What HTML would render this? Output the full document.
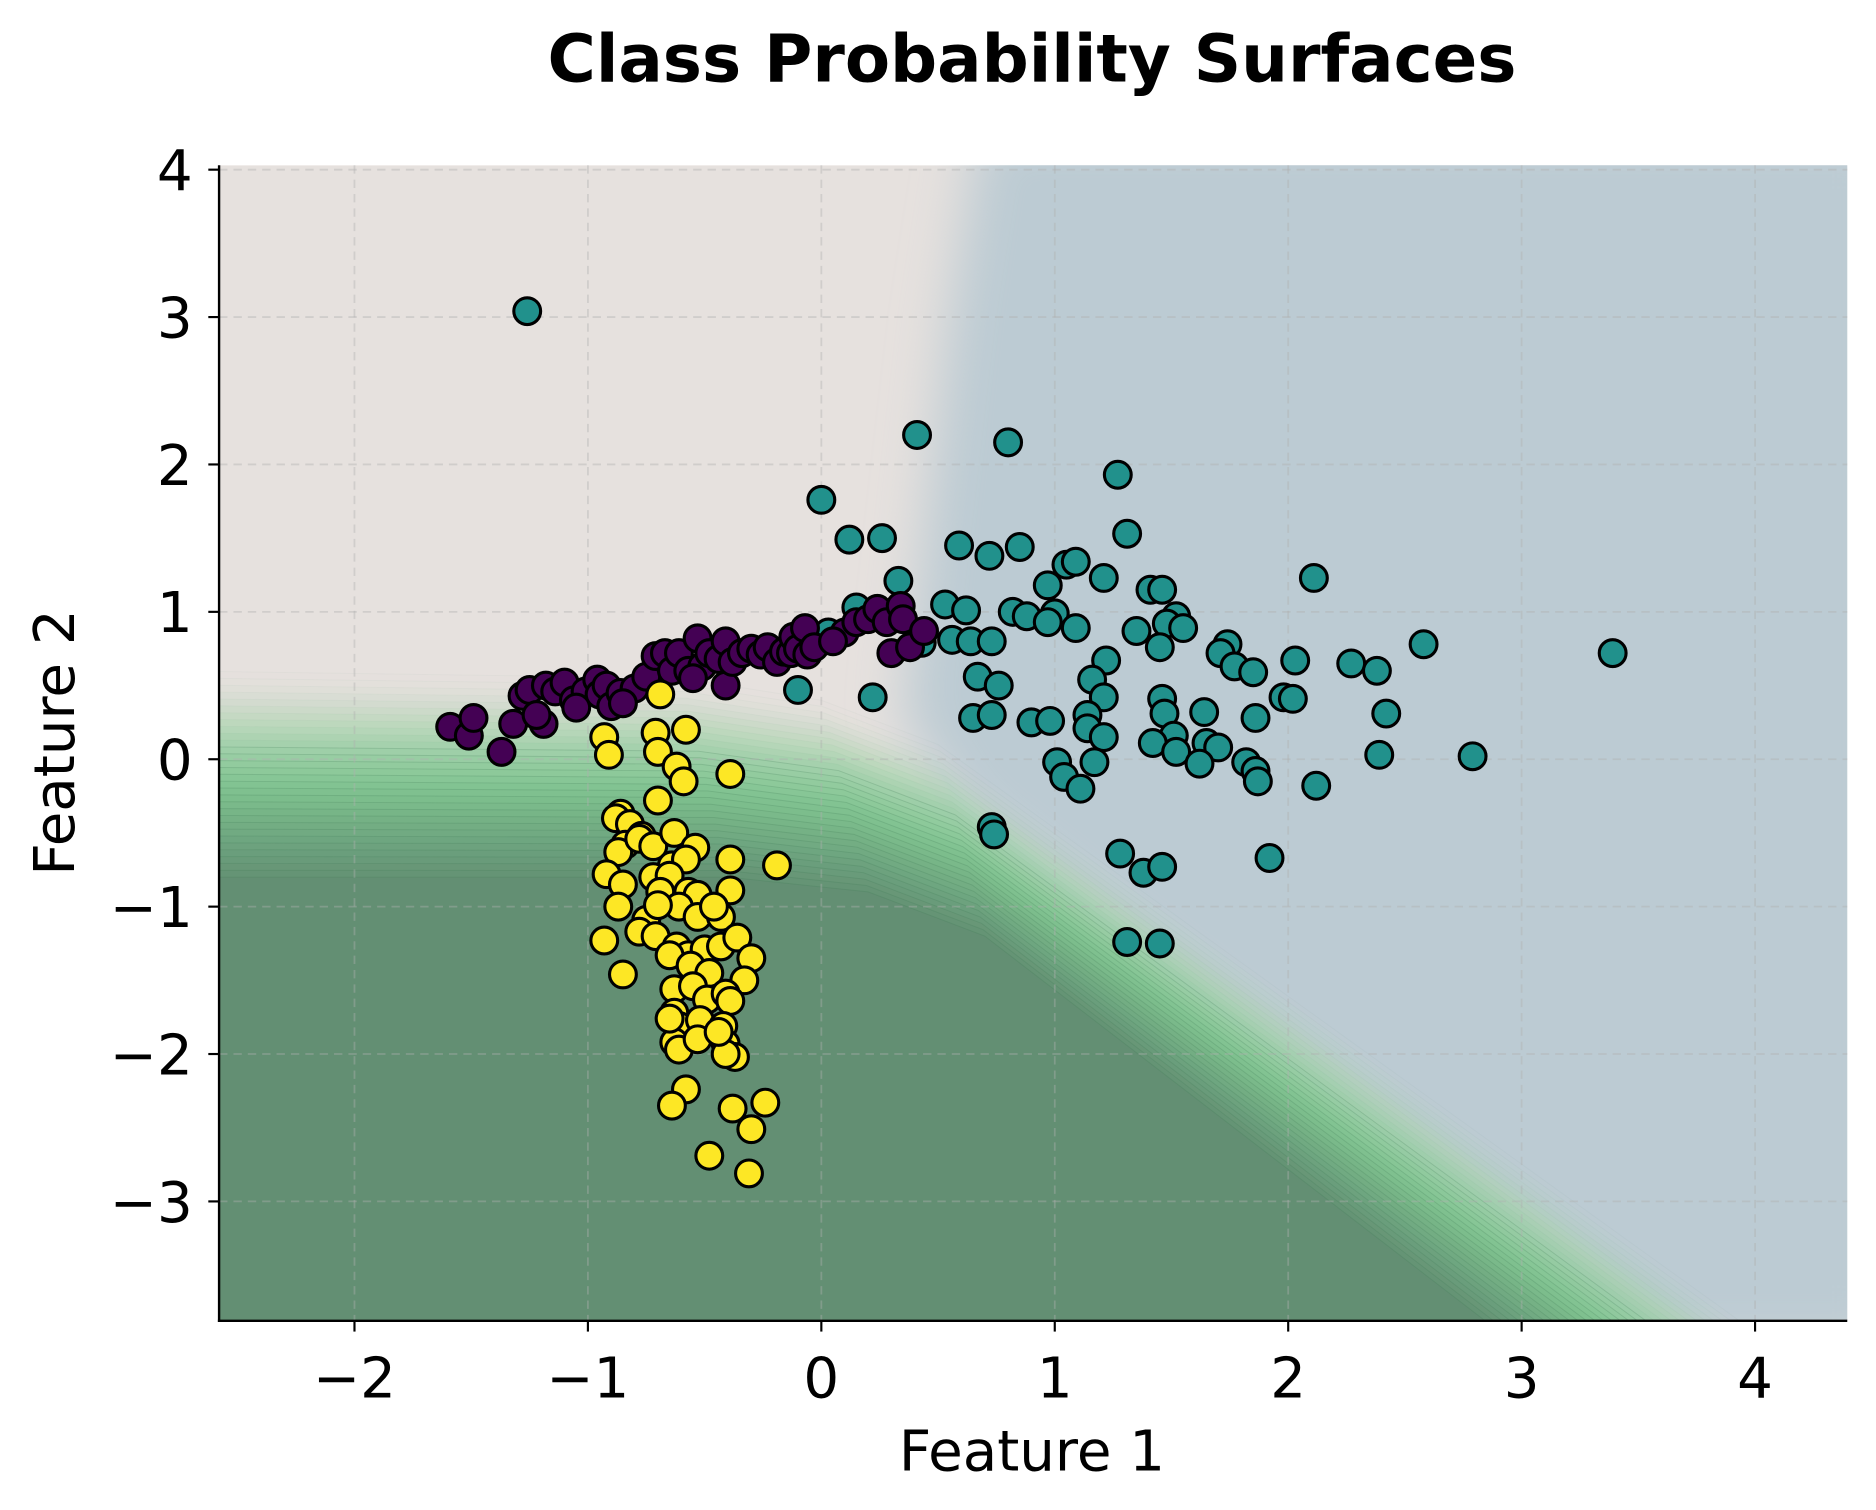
<!DOCTYPE html>
<html><head><meta charset="utf-8">
<style>
html,body{margin:0;padding:0;background:#fff;}
svg{display:block;}
text{font-family:"DejaVu Sans","Liberation Sans",sans-serif;fill:#000;}
</style></head>
<body>
<svg id="chart" width="1876" height="1510" viewBox="0 0 1567 1261" preserveAspectRatio="none" xmlns="http://www.w3.org/2000/svg">
<defs>
<clipPath id="plotclip"><rect x="183" y="138" width="1360" height="965"/></clipPath>
<filter id="blurL" x="-50%" y="-50%" width="200%" height="200%"><feGaussianBlur stdDeviation="22"/></filter>
</defs>
<g id="surface" clip-path="url(#plotclip)"></g>
<g id="grid"></g>
<g id="points" clip-path="url(#plotclip)"></g>
<g id="axes"></g>
<text x="862" y="68" text-anchor="middle" font-size="55" font-weight="bold">Class Probability Surfaces</text>
<text x="862" y="1228" text-anchor="middle" font-size="47">Feature 1</text>
<text x="0" y="0" text-anchor="middle" font-size="47" transform="translate(62,620) rotate(-90)">Feature 2</text>
</svg>
<script>
const xTicks = [-2, -1, 0, 1, 2, 3, 4];
const yTicks = [-3, -2, -1, 0, 1, 2, 3, 4];
const xTickLabels = ["\u22122", "\u22121", "0", "1", "2", "3", "4"];
const yTickLabels = ["\u22123", "\u22122", "\u22121", "0", "1", "2", "3", "4"];
const class1X = [-1.26,0.41,0.80,1.27,0.00,1.31,0.12,0.26,0.59,0.72,0.85,1.05,1.09,1.21,2.11,0.33,0.97,1.41,1.46,0.15,0.53,0.62,0.82,0.88,1.00,1.52,1.48,1.55,0.97,1.09,1.35,0.03,0.43,0.56,0.64,0.73,1.45,1.74,1.71,1.77,1.85,2.03,2.27,2.38,2.58,3.39,1.22,0.67,0.76,1.16,0.22,1.21,1.46,1.98,2.02,1.47,1.64,2.42,0.65,0.73,0.90,0.98,1.14,1.14,1.21,1.51,1.86,1.42,1.52,1.65,1.70,2.39,2.79,1.01,1.17,1.62,1.82,1.04,1.11,1.86,1.87,2.12,0.73,0.74,1.28,1.92,1.38,1.46,1.31,1.45,-0.10];
const class1Y = [3.04,2.20,2.15,1.93,1.76,1.53,1.49,1.50,1.45,1.38,1.44,1.32,1.34,1.23,1.23,1.21,1.18,1.15,1.15,1.03,1.05,1.01,1.00,0.97,0.99,0.97,0.92,0.89,0.93,0.89,0.87,0.86,0.79,0.81,0.80,0.80,0.76,0.78,0.72,0.63,0.59,0.67,0.65,0.60,0.78,0.72,0.67,0.56,0.50,0.54,0.42,0.42,0.41,0.42,0.41,0.31,0.32,0.31,0.28,0.30,0.25,0.26,0.30,0.21,0.15,0.16,0.28,0.11,0.05,0.11,0.08,0.03,0.02,-0.02,-0.02,-0.03,-0.02,-0.12,-0.20,-0.08,-0.15,-0.18,-0.46,-0.51,-0.64,-0.67,-0.77,-0.73,-1.24,-1.25,0.47];
const class0X = [-1.59,-1.51,-1.49,-1.37,-1.32,-1.28,-1.25,-1.18,-1.19,-1.14,-1.10,-1.06,-1.01,-0.96,-0.95,-0.92,-0.90,-0.86,-0.80,-0.75,-0.71,-0.67,-0.64,-0.61,-0.57,-0.53,-0.51,-0.48,-0.44,-0.41,-0.41,-0.38,-0.34,-0.30,-0.26,-0.23,-0.19,-0.16,-0.13,-0.12,-0.10,-0.07,-0.06,-0.03,0.10,0.15,0.20,0.24,0.28,0.30,0.34,0.35,0.38,0.44,-1.22,-1.05,-0.85,-0.55,0.05];
const class0Y = [0.22,0.16,0.28,0.05,0.24,0.43,0.47,0.50,0.24,0.46,0.52,0.40,0.46,0.54,0.44,0.50,0.36,0.45,0.48,0.56,0.70,0.72,0.60,0.72,0.60,0.82,0.63,0.72,0.68,0.80,0.50,0.66,0.72,0.75,0.71,0.76,0.66,0.73,0.72,0.83,0.75,0.89,0.71,0.76,0.86,0.93,0.95,1.02,0.93,0.72,1.04,0.95,0.76,0.87,0.30,0.35,0.38,0.55,0.80];
const class2X = [-0.69,-0.71,-0.58,-0.93,-0.91,-0.70,-0.62,-0.59,-0.39,-0.70,-0.86,-0.88,-0.82,-0.77,-0.84,-0.87,-0.78,-0.72,-0.63,-0.54,-0.64,-0.58,-0.39,-0.19,-0.92,-0.85,-0.72,-0.65,-0.57,-0.53,-0.39,-0.87,-0.69,-0.61,-0.75,-0.53,-0.43,-0.78,-0.71,-0.62,-0.57,-0.50,-0.43,-0.36,-0.30,-0.93,-0.65,-0.56,-0.48,-0.33,-0.85,-0.63,-0.55,-0.49,-0.41,-0.39,-0.63,-0.61,-0.52,-0.42,-0.41,-0.63,-0.61,-0.53,-0.37,-0.41,-0.44,-0.58,-0.64,-0.38,-0.24,-0.30,-0.48,-0.31,-0.65,-0.46,-0.70];
const class2Y = [0.44,0.18,0.20,0.15,0.03,0.05,-0.05,-0.15,-0.10,-0.28,-0.37,-0.40,-0.44,-0.52,-0.58,-0.63,-0.54,-0.59,-0.50,-0.60,-0.72,-0.68,-0.68,-0.72,-0.78,-0.85,-0.80,-0.79,-0.90,-0.92,-0.89,-1.00,-0.90,-1.00,-1.09,-1.07,-1.07,-1.17,-1.20,-1.27,-1.33,-1.29,-1.27,-1.21,-1.35,-1.23,-1.33,-1.40,-1.45,-1.50,-1.46,-1.56,-1.54,-1.63,-1.59,-1.64,-1.72,-1.81,-1.77,-1.81,-1.93,-1.92,-1.97,-1.90,-2.02,-2.00,-1.85,-2.24,-2.35,-2.37,-2.33,-2.51,-2.69,-2.81,-1.76,-1.00,-0.99];
// surface region outlines (data coords)
const blueRegion = [[0.68,4.3],[4.6,4.3],[4.6,-4],[3.55,-4],[0.6,-0.35],[0.35,0.3],[0.42,1.2],[0.55,3],[0.68,4.3]];
const greenOuter = [[-2.8,0.6],[-0.6,0.55],[0.0,0.4],[0.5,0.1],[4.1,-4]];
const greenInner = [[-2.8,-0.8],[-0.4,-0.8],[0.2,-0.9],[0.7,-1.2],[3.0,-4]];

const X0=-2.58, X1=4.395, Y0=-3.81, Y1=4.03;
const PL=183, PR=1543, PT=138, PB=1103;
function sx(v){return PL+(v-X0)/(X1-X0)*(PR-PL);}
function sy(v){return PB-(v-Y0)/(Y1-Y0)*(PB-PT);}
const NS="http://www.w3.org/2000/svg";
function mk(tag,attrs,parent){const e=document.createElementNS(NS,tag);for(const k in attrs)e.setAttribute(k,attrs[k]);parent.appendChild(e);return e;}
function pts(arr){return arr.map(p=>sx(p[0]).toFixed(1)+","+sy(p[1]).toFixed(1)).join(" ");}
function mix(a,b,t){const pa=[1,3,5].map(i=>parseInt(a.substr(i,2),16)),pb=[1,3,5].map(i=>parseInt(b.substr(i,2),16));return 'rgb('+pa.map((v,i)=>Math.round(v+(pb[i]-v)*t)).join(',')+')';}

const surf=document.getElementById('surface');
let r=mk('rect',{x:PL,y:PT,width:PR-PL,height:PB-PT,fill:'#e6e1de'},surf);


let b=mk('polygon',{points:pts(blueRegion),fill:'#bccbd3',filter:'url(#blurL)'},surf);


const N=30;
for(let k=0;k<=N;k++){
  const t=k/N;
  const bnd=greenOuter.map((p,i)=>[p[0]+(greenInner[i][0]-p[0])*t,p[1]+(greenInner[i][1]-p[1])*t]);
  bnd.push([-2.8,-4]);
  let col,op;
  if(t<0.5){col=mix('#b5dbba','#7fc490',t/0.5);op=0.02+t*0.7;}
  else{col=mix('#7fc490','#638f73',(t-0.5)/0.5);op=0.4+(t-0.5)*1.0;}
  if(k===N){col='#638f73';op=1;}
  const pg=mk('polygon',{points:pts(bnd),fill:col,'fill-opacity':op.toFixed(2),stroke:'#3f7a55','stroke-opacity':(t>0.35?0.22:0.03),'stroke-width':'0.8'},surf);
  
  
}

const grid=document.getElementById('grid');
xTicks.forEach(t=>{const l=mk('line',{x1:sx(t),x2:sx(t),y1:PT,y2:PB,stroke:'#b0b0b0','stroke-opacity':'0.4','stroke-width':'1.5','stroke-dasharray':'7,5'},grid);

});
yTicks.forEach(t=>{const l=mk('line',{x1:PL,x2:PR,y1:sy(t),y2:sy(t),stroke:'#b0b0b0','stroke-opacity':'0.4','stroke-width':'1.5','stroke-dasharray':'7,5'},grid);

});

const pgp=document.getElementById('points');
function drawSeries(xs,ys,color,name){xs.forEach((x,i)=>{const c=mk('circle',{cx:sx(x),cy:sy(ys[i]),r:11.2,fill:color,stroke:'#000','stroke-width':'2.6'},pgp);

});}
drawSeries(class1X,class1Y,'#21918c','class1-point');
drawSeries(class0X,class0Y,'#440154','class0-point');
drawSeries(class2X,class2Y,'#fde725','class2-point');

const ax=document.getElementById('axes');
let ls=mk('line',{x1:PL,x2:PL,y1:PT,y2:PB+1,stroke:'#000','stroke-width':'2'},ax);


let bs=mk('line',{x1:PL-1,x2:PR,y1:PB,y2:PB,stroke:'#000','stroke-width':'2'},ax);


xTicks.forEach((t,i)=>{const l=mk('line',{x1:sx(t),x2:sx(t),y1:PB,y2:PB+9,stroke:'#000','stroke-width':'1.8'},ax);


const tx=mk('text',{x:sx(t),y:PB+64,'text-anchor':'middle','font-size':'47'},ax);tx.textContent=xTickLabels[i];

});
yTicks.forEach((t,i)=>{const l=mk('line',{x1:PL-9,x2:PL,y1:sy(t),y2:sy(t),stroke:'#000','stroke-width':'1.8'},ax);


const tx=mk('text',{x:PL-22,y:sy(t)+17,'text-anchor':'end','font-size':'47'},ax);tx.textContent=yTickLabels[i];

});
</script>
</body></html>
